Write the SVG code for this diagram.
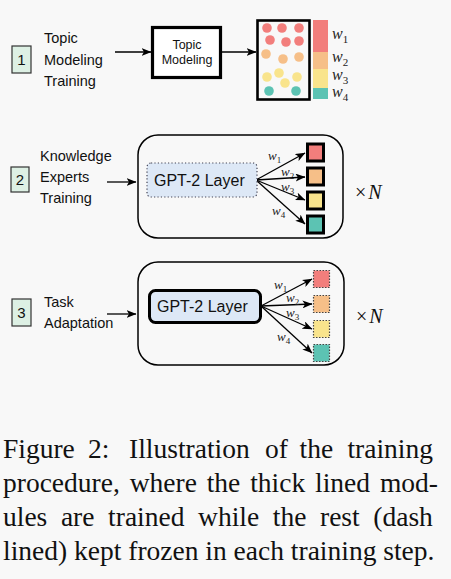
<svg xmlns="http://www.w3.org/2000/svg" width="451" height="579" viewBox="0 0 451 579">
<defs>
<marker id="ah" viewBox="0 0 10 8" refX="9.5" refY="4" markerWidth="10" markerHeight="8" markerUnits="userSpaceOnUse" orient="auto">
<path d="M0,0 L10,4 L0,8 L2.5,4 z" fill="#000"/>
</marker>
<style>
.sans{font-family:"Liberation Sans",Arial,sans-serif;fill:#111}
.lbl{font-size:14.5px}
.num{font-size:15px;text-anchor:middle}
.numbox{fill:#ddf0e4;stroke:#333;stroke-width:1.2}
.cont{fill:none;stroke:#000;stroke-width:1.5}
.conn{fill:none;stroke:#000;stroke-width:1.3;marker-end:url(#ah)}
.w{font-family:"Liberation Serif","Times New Roman",serif;font-style:italic;fill:#222}
.sub{font-style:normal}
.cap{font-family:"Liberation Serif","Times New Roman",serif;font-size:27.5px;fill:#111}
.red{fill:#f27e7c}.org{fill:#f6bf88}.yel{fill:#f9e48c}.tea{fill:#5cc3b3}
.sqT{stroke:#000;stroke-width:3}
.sqD{stroke:#444;stroke-width:1.2;stroke-dasharray:1.5 1.5}
.xn{font-family:"Liberation Serif","Times New Roman",serif;font-size:20px;fill:#111}
</style>
</defs>
<rect width="451" height="579" fill="#f8f8f8"/>

<g id="connectors">
<line class="conn" x1="115" y1="52" x2="151" y2="52"/>
<line class="conn" x1="221" y1="52" x2="256" y2="52"/>
<line class="conn" x1="107" y1="182" x2="136" y2="182"/>
<line class="conn" x1="256" y1="180" x2="305" y2="153"/>
<line class="conn" x1="256" y1="180" x2="305" y2="177"/>
<line class="conn" x1="256" y1="180" x2="305" y2="200"/>
<line class="conn" x1="256" y1="180" x2="305" y2="224"/>
<line class="conn" x1="107" y1="314" x2="136" y2="314"/>
<line class="conn" x1="261" y1="306" x2="312" y2="279"/>
<line class="conn" x1="261" y1="306" x2="312" y2="304"/>
<line class="conn" x1="261" y1="306" x2="312" y2="329"/>
<line class="conn" x1="261" y1="306" x2="312" y2="353"/>
</g>

<!-- Row 1 -->
<g id="step1">
<rect class="numbox" x="12" y="46" width="19" height="27"/>
<text class="sans num" x="21.5" y="65">1</text>
<text class="sans lbl" x="44" y="43">Topic</text>
<text class="sans lbl" x="44" y="64.5">Modeling</text>
<text class="sans lbl" x="44" y="86">Training</text>
</g>
<g id="topic-modeling">
<rect x="152.5" y="27.5" width="68" height="50" fill="#fff" stroke="#000" stroke-width="3.2"/>
<text class="sans" x="187" y="49" font-size="12.5" text-anchor="middle">Topic</text>
<text class="sans" x="187" y="64" font-size="12.5" text-anchor="middle">Modeling</text>
</g>
<g id="topics-doc">
<rect x="257.5" y="20.5" width="52" height="79" fill="#f8f8f8" stroke="#000" stroke-width="2.6"/>
<circle class="red" cx="267" cy="28" r="4.8"/>
<circle class="red" cx="282" cy="28" r="4.8"/>
<circle class="red" cx="299" cy="28" r="4.8"/>
<circle class="red" cx="270" cy="40" r="4.8"/>
<circle class="red" cx="286" cy="42" r="4.8"/>
<circle class="red" cx="299" cy="41" r="4.8"/>
<circle class="org" cx="266" cy="54" r="4.8"/>
<circle class="org" cx="283" cy="59" r="4.8"/>
<circle class="org" cx="299" cy="57" r="4.8"/>
<circle class="yel" cx="267" cy="77" r="4.8"/>
<circle class="yel" cx="279" cy="73" r="4.8"/>
<circle class="yel" cx="285" cy="83" r="4.8"/>
<circle class="yel" cx="297" cy="77" r="4.8"/>
<circle class="tea" cx="269" cy="91" r="4.8"/>
<circle class="tea" cx="296" cy="91" r="4.8"/>
</g>
<g id="topic-bar">
<rect class="red" x="313" y="20" width="15" height="32"/>
<rect class="org" x="313" y="52" width="15" height="17"/>
<rect class="yel" x="313" y="69" width="15" height="19"/>
<rect class="tea" x="313" y="88" width="15" height="11"/>
<text class="w" x="332" y="39" font-size="16">w<tspan class="sub" font-size="11" dy="4">1</tspan></text>
<text class="w" x="332" y="62" font-size="16">w<tspan class="sub" font-size="11" dy="4">2</tspan></text>
<text class="w" x="332" y="80" font-size="16">w<tspan class="sub" font-size="11" dy="4">3</tspan></text>
<text class="w" x="332" y="97" font-size="16">w<tspan class="sub" font-size="11" dy="4">4</tspan></text>
</g>

<!-- Row 2 -->
<g id="step2">
<rect class="numbox" x="11" y="167" width="18" height="25"/>
<text class="sans num" x="20" y="185">2</text>
<text class="sans lbl" x="40" y="161">Knowledge</text>
<text class="sans lbl" x="40" y="182">Experts</text>
<text class="sans lbl" x="40" y="203">Training</text>
</g>
<g id="experts-block">
<rect class="cont" x="138" y="135" width="205" height="103" rx="20"/>
<rect x="147" y="163" width="110" height="34" rx="4" fill="#dde8f6" stroke="#445" stroke-width="1.2" stroke-dasharray="1.2 2.2"/>
<text class="sans" x="154" y="186" font-size="16">GPT-2 Layer</text>
<rect class="red sqT" x="307.5" y="144" width="16" height="17"/>
<rect class="org sqT" x="307.5" y="168" width="16" height="17"/>
<rect class="yel sqT" x="307.5" y="192" width="16" height="17"/>
<rect class="tea sqT" x="307.5" y="216" width="16" height="17"/>
<text class="w" x="268" y="160" font-size="13">w<tspan class="sub" font-size="9" dy="3">1</tspan></text>
<text class="w" x="281" y="176" font-size="13">w<tspan class="sub" font-size="9" dy="2.5">2</tspan></text>
<text class="w" x="281" y="191" font-size="13">w<tspan class="sub" font-size="9" dy="3">3</tspan></text>
<text class="w" x="272" y="215" font-size="13">w<tspan class="sub" font-size="9" dy="3">4</tspan></text>
<text class="xn" x="355" y="199">×<tspan font-style="italic" dx="2">N</tspan></text>
</g>

<!-- Row 3 -->
<g id="step3">
<rect class="numbox" x="12" y="299" width="19" height="27"/>
<text class="sans num" x="21.5" y="318">3</text>
<text class="sans lbl" x="44" y="307">Task</text>
<text class="sans lbl" x="44" y="328">Adaptation</text>
</g>
<g id="adaptation-block">
<rect class="cont" x="138" y="262" width="206" height="103" rx="20"/>
<rect x="149.5" y="290.5" width="111" height="32" rx="6" fill="#dde8f6" stroke="#000" stroke-width="3"/>
<text class="sans" x="157" y="312" font-size="16">GPT-2 Layer</text>
<rect class="red sqD" x="313.5" y="270.5" width="16" height="17"/>
<rect class="org sqD" x="313.5" y="295.5" width="16" height="17"/>
<rect class="yel sqD" x="313.5" y="320.5" width="16" height="17"/>
<rect class="tea sqD" x="313.5" y="344.5" width="16" height="17"/>
<text class="w" x="274" y="289" font-size="13">w<tspan class="sub" font-size="9" dy="3">1</tspan></text>
<text class="w" x="286" y="302" font-size="13">w<tspan class="sub" font-size="9" dy="2.5">2</tspan></text>
<text class="w" x="286" y="317" font-size="13">w<tspan class="sub" font-size="9" dy="3">3</tspan></text>
<text class="w" x="277" y="341" font-size="13">w<tspan class="sub" font-size="9" dy="3">4</tspan></text>
<text class="xn" x="356" y="323">×<tspan font-style="italic" dx="2">N</tspan></text>
</g>

<!-- Caption -->
<g id="caption" class="cap">
<text y="458"><tspan x="3">Figure</tspan><tspan x="88">2:</tspan><tspan x="129">Illustration</tspan><tspan x="265">of</tspan><tspan x="299.5">the</tspan><tspan x="347.4">training</tspan></text>
<text y="492"><tspan x="3">procedure,</tspan><tspan x="129.7">where</tspan><tspan x="206.7">the</tspan><tspan x="250.2">thick</tspan><tspan x="315">lined</tspan><tspan x="379.9">mod-</tspan></text>
<text y="526"><tspan x="3">ules</tspan><tspan x="60.9">are</tspan><tspan x="108.1">trained</tspan><tspan x="198.1">while</tspan><tspan x="272.8">the</tspan><tspan x="320">rest</tspan><tspan x="373.3">(dash</tspan></text>
<text x="3" y="560">lined) kept frozen in each training step.</text>
</g>
</svg>
